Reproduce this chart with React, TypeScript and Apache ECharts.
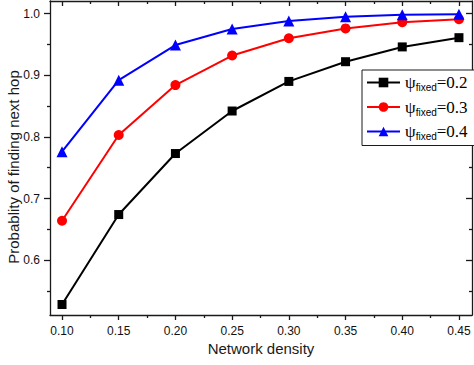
import React, { useEffect, useRef } from "react";
import * as echarts from "echarts";

const densities = [0.1, 0.15, 0.2, 0.25, 0.3, 0.35, 0.4, 0.45];
const psi02 = [0.528, 0.674, 0.773, 0.842, 0.89, 0.922, 0.946, 0.961];
const psi03 = [0.664, 0.803, 0.884, 0.932, 0.96, 0.976, 0.986, 0.991];
const psi04 = [0.776, 0.892, 0.949, 0.975, 0.988, 0.995, 0.998, 0.999];
const seriesNames = ["0.2", "0.3", "0.4"];
const xMajor = [0.1, 0.15, 0.2, 0.25, 0.3, 0.35, 0.4, 0.45];
const xMinor = [0.125, 0.175, 0.225, 0.275, 0.325, 0.375, 0.425];
const yMajor = [0.6, 0.7, 0.8, 0.9, 1.0];
const yMinor = [0.55, 0.65, 0.75, 0.85, 0.95];
const xTitle = "Network density";
const yTitle = "Probablity of finding next hop";

const X_MIN = 0.0894;
const X_MAX = 0.4615;
const Y_MIN = 0.511;
const Y_MAX = 1.0205;

const FRAME = { color: "#1a1a1a", width: 1.3 };
const SANS = "'Liberation Sans', Arial, sans-serif";
const SERIF = "'Liberation Serif', 'Times New Roman', serif";

function xAxis(pos: "bottom" | "top", ticks: number[], len: number, inside: boolean, labels: boolean, line: boolean) {
  return {
    type: "value",
    position: pos,
    min: X_MIN,
    max: X_MAX,
    axisLine: { show: line, onZero: false, lineStyle: FRAME },
    axisTick: { show: true, inside, length: len, customValues: ticks, lineStyle: FRAME },
    axisLabel: labels
      ? {
          show: true,
          customValues: xMajor,
          formatter: (v: number) => v.toFixed(2),
          color: "#111",
          fontFamily: SANS,
          fontSize: 12,
          margin: 10,
        }
      : { show: false },
    splitLine: { show: false },
  };
}

function yAxis(pos: "left" | "right", ticks: number[], len: number, inside: boolean, labels: boolean, line: boolean) {
  return {
    type: "value",
    position: pos,
    min: Y_MIN,
    max: Y_MAX,
    axisLine: { show: line, onZero: false, lineStyle: FRAME },
    axisTick: { show: true, inside, length: len, customValues: ticks, lineStyle: FRAME },
    axisLabel: labels
      ? {
          show: true,
          customValues: yMajor,
          formatter: (v: number) => v.toFixed(1),
          color: "#111",
          fontFamily: SANS,
          fontSize: 12,
          margin: 10,
        }
      : { show: false },
    splitLine: { show: false },
  };
}

export default function App() {
  const ref = useRef<HTMLDivElement>(null);
  useEffect(() => {
    if (!ref.current) return;
    const chart = echarts.init(ref.current, null, { renderer: "svg" });
    const colors = ["#000000", "#ff0000", "#0000ff"];
    const symbols = ["rect", "circle", "triangle"];
    const sizes = [9, 10, 11];
    const datas = [psi02, psi03, psi04];
    chart.setOption({
      animation: false,
      backgroundColor: "#ffffff",
      grid: { left: 50, right: 2, top: 1, bottom: 50, containLabel: false },
      xAxis: [
        xAxis("bottom", xMajor, 5, false, true, true),
        xAxis("bottom", xMinor, 3, false, false, false),
        xAxis("top", xMajor, 5, true, false, true),
        xAxis("top", xMinor, 3, true, false, false),
      ],
      yAxis: [
        yAxis("left", yMajor, 6, false, true, true),
        yAxis("left", yMinor, 3, false, false, false),
        yAxis("right", yMajor, 6, true, false, true),
        yAxis("right", yMinor, 3, true, false, false),
      ],
      legend: {
        data: seriesNames,
        left: 362,
        top: 70,
        orient: "vertical",
        itemWidth: 33,
        itemHeight: 12,
        itemGap: 6,
        padding: [4, 7, 4, 4],
        borderColor: "#1a1a1a",
        borderWidth: 1,
        backgroundColor: "#ffffff",
        formatter: (name: string) => `{p|ψ}{s|fixed}{v|=${name}}`,
        textStyle: {
          rich: {
            p: { fontFamily: SERIF, fontSize: 17, color: "#000", lineHeight: 20 },
            s: { fontFamily: SANS, fontSize: 10, color: "#000", padding: [10, 0, 0, 0] },
            v: { fontFamily: SERIF, fontSize: 17, color: "#000", lineHeight: 20 },
          },
        },
      },
      series: seriesNames.map((n, i) => ({
        name: n,
        type: "line",
        xAxisIndex: 0,
        yAxisIndex: 0,
        data: densities.map((d, j) => [d, datas[i][j]]),
        symbol: symbols[i],
        symbolSize: sizes[i],
        showSymbol: true,
        color: colors[i],
        lineStyle: { color: colors[i], width: 2 },
        itemStyle: { color: colors[i] },
      })),
      graphic: [
        {
          type: "text",
          x: 261,
          y: 348,
          style: {
            text: xTitle,
            font: `15px ${SANS}`,
            fill: "#1a1a1a",
            textAlign: "center",
            textVerticalAlign: "middle",
          },
        },
        {
          type: "text",
          x: 13,
          y: 167,
          rotation: Math.PI / 2,
          style: {
            text: yTitle,
            font: `15px ${SANS}`,
            fill: "#1a1a1a",
            textAlign: "center",
            textVerticalAlign: "middle",
          },
        },
      ],
    });
    return () => chart.dispose();
  }, []);
  return <div ref={ref} style={{ position: "fixed", left: 0, top: 0, width: 474, height: 365 }} />;
}
